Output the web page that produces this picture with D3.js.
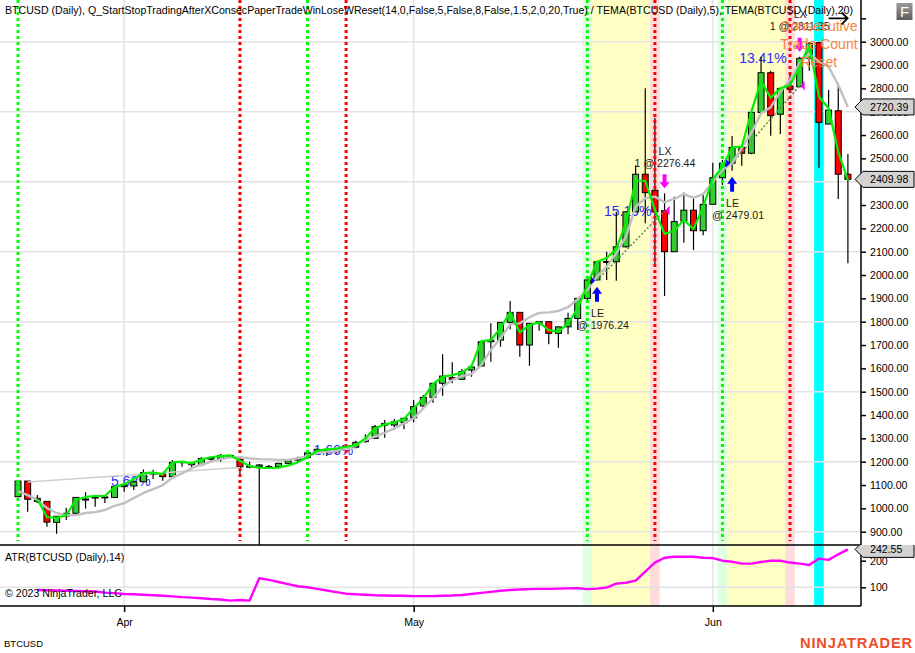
<!DOCTYPE html>
<html>
<head>
<meta charset="utf-8">
<script src="https://cdn.jsdelivr.net/npm/d3@7"></script>
<style>
    html, body { margin: 0; padding: 0; background: #fff; }
    svg { display: block; font-family: "Liberation Sans", Arial, sans-serif; }
</style>
</head>
<body>
<script>
var barOpen = [
    1050,1117,1043,1030,940,967,979,1036,1044,1045,
    1047,1093,1096,1114,1147,1147,1136,1196,1187,1187,
    1211,1213,1221,1211,1177,1178,1177,1178,1193,1207,
    1218,1238,1240,1243,1250,1262,1286,1300,1357,1357,
    1367,1388,1439,1476,1536,1560,1553,1593,1610,1714,
    1721,1797,1840,1700,1793,1800,1750,1778,1814,1900,
    1979,2056,2057,2121,2271,2432,2363,2276,2100,2231,
    2278,2190,2303,2417,2479,2547,2522,2697,2867,2689,
    2810,2807,2929,2996,2647,2704,2432];
var barHigh = [
    1120,1117,1057,1030,967,1003,1047,1069,1050,1050,
    1093,1108,1121,1167,1166,1157,1207,1201,1200,1219,
    1217,1233,1229,1211,1200,1190,1186,1193,1210,1221,
    1243,1257,1259,1257,1267,1290,1318,1357,1379,1383,
    1388,1464,1486,1537,1661,1626,1597,1614,1717,1793,
    1798,1889,1840,1793,1801,1800,1778,1838,1901,1979,
    2058,2100,2271,2273,2471,2800,2673,2350,2336,2354,
    2326,2343,2481,2493,2596,2547,2697,2936,2876,2800,
    2857,2936,2999,3000,2793,2823,2519];
var barLow = [
    1048,986,1023,921,891,950,976,999,1007,1023,
    1044,1071,1079,1113,1126,1118,1136,1178,1168,1181,
    1203,1200,1219,1143,1172,500,1176,1176,1190,1196,
    1218,1236,1224,1236,1236,1257,1281,1298,1303,1336,
    1339,1369,1429,1453,1483,1536,1553,1564,1607,1628,
    1693,1768,1650,1611,1761,1703,1688,1746,1764,1893,
    1975,1979,1976,2118,2271,2222,2047,1910,2100,2138,
    2107,2171,2303,2386,2447,2468,2518,2697,2597,2604,
    2793,2807,2876,2460,2647,2326,2050];
var barClose = [
    1117,1039,1030,941,966,979,1047,1040,1049,1049,
    1093,1100,1114,1153,1154,1136,1197,1200,1196,1214,
    1216,1227,1227,1178,1181,1186,1179,1193,1204,1214,
    1238,1253,1247,1250,1264,1283,1293,1350,1364,1371,
    1386,1436,1476,1536,1567,1553,1586,1606,1714,1721,
    1797,1840,1700,1793,1800,1750,1778,1814,1900,1979,
    2057,2058,2121,2271,2432,2353,2271,2100,2229,2278,
    2190,2303,2417,2479,2547,2522,2697,2867,2683,2800,
    2796,2929,2992,2654,2707,2432,2410];

// fast TEMA starts on the third bar, ATR too
var tema5Start = 2;
var tema5 = [
    1040,963,959,971,1036,1049,1053,1053,1091,1104,
    1126,1151,1153,1146,1197,1200,1193,1210,1219,1224,
    1227,1204,1181,1174,1173,1174,1184,1197,1220,1247,
    1254,1256,1264,1271,1300,1343,1360,1369,1383,1429,
    1472,1533,1564,1571,1583,1610,1717,1721,1773,1840,
    1754,1786,1797,1764,1757,1793,1857,1957,2057,2073,
    2111,2223,2404,2404,2279,2176,2190,2236,2197,2293,
    2411,2464,2547,2550,2700,2831,2760,2800,2814,2893,
    2986,2764,2715,2528,2407];
var tema20 = [
    1074,1057,1036,1001,980,971,971,980,984,993,
    1011,1022,1044,1066,1082,1100,1131,1150,1172,1187,
    1200,1211,1219,1219,1214,1211,1210,1208,1208,1214,
    1225,1237,1243,1246,1257,1271,1293,1307,1324,1343,
    1364,1386,1429,1472,1521,1550,1567,1576,1614,1679,
    1729,1789,1793,1819,1838,1840,1846,1862,1897,1936,
    1993,2036,2094,2164,2293,2329,2336,2312,2326,2347,
    2331,2347,2399,2450,2479,2544,2609,2693,2719,2786,
    2836,2907,2950,2914,2893,2814,2720.39];
var atrStart = 2;
var atrValues = [
    90,89,88,87,86,85,84,80,78,75,
    74,72,70,68,66,63,61,59,56,54,
    50,52,50,134,128,120,112,104,100,94,
    88,82,76,74,72,70,69,68,68,67,
    67,67,68,69,71,75,79,83,87,90,
    92,93,94,94,95,96,97,93,95,99,
    114,117,125,159,193,211,215,215,215,211,
    210,200,196,189,189,195,200,200,193,189,
    184,208,203,224,242.55];

var entryBars = [59, 73];
var exitBars = [66, 80];
var resetBars = [83];
var startBars = [0, 30, 59, 73];
var stopBars = [23, 34, 66, 80];

var tradeEntryBar = [1, 31, 60, 74];
var tradeEntryPrice = [1113, 1238, 1976.24, 2479.01];
var tradeExitBar = [23, 35, 67, 81];
var tradeExitPrice = [1175, 1258, 2276.44, 2811.35];
var tradePercent = ['5.62%', '1.66%', '15.19%', '13.41%'];
var tradePercentPrice = [1117, 1250, 2274, 2930];
var tradeWon = [false, false, true, true];

var priceTicks = [900,1000,1100,1200,1300,1400,1500,1600,1700,1800,1900,2000,2100,2200,2300,2400,2500,2600,2700,2800,2900,3000,3100];
var priceGrid = [900, 1200, 1500, 1800, 2100, 2400, 2700, 3000];
var atrTicks = [100, 200];
var lastPrices = [2720.39, 2409.98];
var lastAtr = 242.55;

var titleText = 'BTCUSD (Daily), Q_StartStopTradingAfterXConsecPaperTradeWinLoseWReset(14,0,False,5,False,8,False,1.5,2,0,20,True) / TEMA(BTCUSD (Daily),5), TEMA(BTCUSD (Daily),20)';
var resetLines = ['Consecutive', 'Trade Count', 'Reset'];

var width = 915, height = 653;
var plotRight = 861, mainBottom = 545, atrBottom = 606;
var labelSize = 10.6;

var firstDay = new Date(Date.UTC(2017, 2, 21));
var dayOf = function(i) { return d3.utcDay.offset(firstDay, i); };

var x = d3.scaleUtc().domain([firstDay, dayOf(barClose.length - 1)]).range([18, 847.9]);
var y = d3.scaleLinear().domain([900, 3000]).range([531.7, 41.7]);
var atrY = d3.scaleLinear().domain([100, 200]).range([587.3, 560.7]);
var barX = function(i) { return x(dayOf(i)); };
var slot = barX(1) - barX(0);

var svg = d3.select('body').append('svg').attr('width', width).attr('height', height);
var defs = svg.append('defs');
defs.append('clipPath').attr('id', 'main-clip').append('rect')
    .attr('x', 0).attr('y', 0).attr('width', plotRight).attr('height', mainBottom);
defs.append('clipPath').attr('id', 'atr-clip').append('rect')
    .attr('x', 0).attr('y', mainBottom).attr('width', width).attr('height', atrBottom - mainBottom);
var grad = defs.append('linearGradient').attr('id', 'btn').attr('x2', 0).attr('y2', 1);
grad.append('stop').attr('offset', 0).attr('stop-color', '#9a9a9a');
grad.append('stop').attr('offset', 1).attr('stop-color', '#5c5c5c');

// background bands run through both panels
var bands = svg.append('g');
function band(from, to, color) {
    bands.append('rect')
        .attr('x', barX(from) - slot / 2).attr('y', 0)
        .attr('width', slot * (to - from + 1)).attr('height', atrBottom)
        .attr('fill', color);
}
entryBars.forEach(function(b, k) {
    band(b, b, '#e0ffe0');
    band(b + 1, exitBars[k] - 1, '#ffffc4');
    band(exitBars[k], exitBars[k], '#ffdcdc');
});
resetBars.forEach(function(b) { band(b, b, '#00ffff'); });

// grid
var months = d3.utcMonth.range(firstDay, dayOf(barClose.length));
var grid = svg.append('g').attr('stroke', '#e3e3e3').attr('stroke-width', 1.5);
grid.selectAll('.h').data(priceGrid).enter().append('line')
    .attr('x1', 0).attr('x2', plotRight).attr('y1', y).attr('y2', y);
grid.selectAll('.a').data(atrTicks.slice(0, 1)).enter().append('line')
    .attr('x1', 0).attr('x2', plotRight).attr('y1', atrY).attr('y2', atrY);
grid.selectAll('.v').data(months).enter().append('line')
    .attr('x1', x).attr('x2', x).attr('y1', 0).attr('y2', atrBottom);

var main = svg.append('g').attr('clip-path', 'url(#main-clip)');

// percent labels sit under the lines
main.selectAll('.pct').data(tradePercent).enter().append('text')
    .attr('x', function(d, k) { return (barX(tradeEntryBar[k]) + barX(tradeExitBar[k])) / 2 - 3; })
    .attr('y', function(d, k) { return y(tradePercentPrice[k]) + 5; })
    .attr('text-anchor', 'middle').attr('font-size', 14).attr('fill', '#2a2aff')
    .text(function(d) { return d; });

// candles
var bars = d3.range(barClose.length);
var candle = main.selectAll('.candle').data(bars).enter().append('g');
candle.append('line')
    .attr('x1', barX).attr('x2', barX)
    .attr('y1', function(i) { return y(barHigh[i]); })
    .attr('y2', function(i) { return y(barLow[i]); })
    .attr('stroke', '#000').attr('stroke-width', 1.2);
candle.append('rect')
    .attr('x', function(i) { return barX(i) - 3; })
    .attr('width', 6)
    .attr('y', function(i) { return y(Math.max(barOpen[i], barClose[i])); })
    .attr('height', function(i) { return Math.max(1, Math.abs(y(barOpen[i]) - y(barClose[i]))); })
    .attr('fill', function(i) { return barClose[i] >= barOpen[i] ? '#32cd32' : '#ff0000'; })
    .attr('stroke', '#000').attr('stroke-width', 1);

// start / stop dotted verticals
function dotted(list, color) {
    main.selectAll(null).data(list).enter().append('line')
        .attr('x1', barX).attr('x2', barX)
        .attr('y1', 0).attr('y2', mainBottom - 4)
        .attr('stroke', color).attr('stroke-width', 3).attr('stroke-dasharray', '3 3');
}
dotted(startBars, '#00ff00');
dotted(stopBars, '#ff0000');

// trade lines
main.selectAll('.trade').data(tradeEntryBar).enter().append('line')
    .attr('x1', function(d) { return barX(d); })
    .attr('y1', function(d, k) { return y(tradeEntryPrice[k]); })
    .attr('x2', function(d, k) { return barX(tradeExitBar[k]); })
    .attr('y2', function(d, k) { return y(tradeExitPrice[k]); })
    .attr('stroke', function(d, k) { return tradeWon[k] ? '#5f8f5f' : '#cfcfcf'; })
    .attr('stroke-width', 1.6)
    .attr('stroke-dasharray', function(d, k) { return tradeWon[k] ? '2 2' : null; });

// TEMA lines
function plotLine(values, start, scale, color, sw, parent) {
    var line = d3.line()
        .x(function(d, k) { return barX(k + start); })
        .y(function(d) { return scale(d); });
    parent.append('path').datum(values)
        .attr('d', line).attr('fill', 'none')
        .attr('stroke', color).attr('stroke-width', sw).attr('stroke-linejoin', 'round');
}
plotLine(tema20, 0, y, '#c0c0c0', 2.4, main);
plotLine(tema5, tema5Start, y, '#00f000', 2.2, main);

// entry markers
tradeEntryBar.slice(2).forEach(function(b, k) {
    var cx = barX(b), top = y(barLow[b]) + 6;
    main.append('path').attr('fill', '#0000ff')
        .attr('d', 'M' + cx + ',' + top + 'l5,7h-3v8h-4v-8h-3z');
    main.append('path').attr('fill', '#0000ff')
        .attr('d', 'M' + (cx - 6) + ',' + (y(tradeEntryPrice[k + 2]) - 4) + 'l4,4l-4,4z');
    var lab = y(barLow[b]) + 36.5;
    main.append('text').attr('x', cx - 6).attr('y', lab).attr('font-size', labelSize).attr('fill', '#1a1a1a').text('LE');
    main.append('text').attr('x', cx - 20).attr('y', lab + 12).attr('font-size', labelSize).attr('fill', '#1a1a1a')
        .text('@ ' + tradeEntryPrice[k + 2]);
});

// exit markers
tradeExitBar.slice(2).forEach(function(b, k) {
    var cx = barX(b), bottom = y(barHigh[b]) - 5;
    main.append('path').attr('fill', '#ff00ff')
        .attr('d', 'M' + cx + ',' + bottom + 'l-5,-6h3v-8h4v8h3l-5,6z');
    main.append('path').attr('fill', '#ff00ff')
        .attr('d', 'M' + (cx + 1) + ',' + y(tradeExitPrice[k + 2]) + 'l4,-5v10z');
    var lab = bottom - 14 - 7.5;
    main.append('text').attr('x', cx - 6).attr('y', lab - 12).attr('font-size', labelSize).attr('fill', '#1a1a1a').text('LX');
    main.append('text').attr('x', cx - 30).attr('y', lab).attr('font-size', labelSize).attr('fill', '#1a1a1a')
        .text('1 @ ' + tradeExitPrice[k + 2]);
});

// reset note and arrow
resetLines.forEach(function(t, k) {
    main.append('text').attr('x', barX(resetBars[0])).attr('y', y(3000) - 11 + k * 18)
        .attr('text-anchor', 'middle').attr('font-size', 14).attr('fill', '#f5853f').text(t);
});
main.append('path').attr('fill', 'none').attr('stroke', '#000').attr('stroke-width', 1.8)
    .attr('d', 'M' + barX(84) + ',' + y(3100) + 'h19m-6,-6l6,6l-6,6');

// atr panel
var atrPanel = svg.append('g').attr('clip-path', 'url(#atr-clip)');
plotLine(atrValues, atrStart, atrY, '#ff00ff', 2.4, atrPanel);

// frame
var frame = svg.append('g').attr('stroke', '#000').attr('stroke-width', 1.5);
frame.append('line').attr('x1', 0).attr('x2', plotRight).attr('y1', mainBottom).attr('y2', mainBottom);
frame.append('line').attr('x1', 0).attr('x2', plotRight).attr('y1', atrBottom).attr('y2', atrBottom);

// axes
function styleAxis(g) {
    g.select('.domain').attr('stroke', '#000').attr('stroke-width', 1.5);
    g.selectAll('.tick line').attr('stroke', '#000').attr('stroke-width', 1.5);
    g.selectAll('.tick text').attr('font-family', '"Liberation Sans", Arial, sans-serif').attr('font-size', labelSize).attr('fill', '#000');
}
var priceAxis = d3.axisRight(y).tickValues(priceTicks).tickSize(5).tickPadding(4)
    .tickFormat(function(d) { return d > 3000 ? '' : d3.format('.2f')(d); });
svg.append('g').attr('transform', 'translate(' + plotRight + ',0)').call(priceAxis).call(styleAxis)
    .select('.domain').attr('d', 'M0,0V' + atrBottom);
svg.append('g').attr('transform', 'translate(' + plotRight + ',0)')
    .call(d3.axisRight(atrY).tickValues(atrTicks).tickSize(5).tickPadding(4).tickFormat(d3.format('d')))
    .call(styleAxis).select('.domain').remove();
svg.append('g').attr('transform', 'translate(0,' + atrBottom + ')')
    .call(d3.axisBottom(x).tickValues(months).tickSize(6).tickPadding(6).tickFormat(d3.utcFormat('%b')))
    .call(styleAxis).select('.domain').remove();

// last value flags
function flag(parent, cy, label) {
    var pts = [[855, cy], [863, cy - 8], [914, cy - 8], [914, cy + 8], [863, cy + 8]];
    parent.append('polygon').attr('points', pts.join(' '))
        .attr('fill', '#d3d3d3').attr('stroke', '#000').attr('stroke-width', 1);
    parent.append('text').attr('x', 870).attr('y', cy + 4).attr('font-size', labelSize).attr('fill', '#000').text(label);
}
lastPrices.forEach(function(p) { flag(svg, y(p), d3.format('.2f')(p)); });
flag(svg.append('g').attr('clip-path', 'url(#atr-clip)'), atrY(lastAtr), d3.format('.2f')(lastAtr));

// texts
svg.append('text').attr('x', 5).attr('y', 14).attr('font-size', labelSize).attr('fill', '#000').text(titleText);
svg.append('text').attr('x', 5).attr('y', 561).attr('font-size', labelSize).attr('fill', '#000').text('ATR(BTCUSD (Daily),14)');
svg.append('text').attr('x', 5).attr('y', 597).attr('font-size', labelSize).attr('fill', '#000').text('\u00a9 2023 NinjaTrader, LLC');
svg.append('text').attr('x', 4).attr('y', 647).attr('font-size', 9.5).attr('fill', '#000').text('BTCUSD');
svg.append('text').attr('x', 913).attr('y', 648).attr('text-anchor', 'end')
    .attr('font-size', 14.7).attr('font-weight', 'bold').attr('letter-spacing', 0.8).attr('fill', '#ee4e27').text('NINJATRADER');

// F button
svg.append('rect').attr('x', 896.5).attr('y', 3).attr('width', 16).attr('height', 17).attr('fill', 'url(#btn)');
svg.append('text').attr('x', 904.5).attr('y', 17).attr('text-anchor', 'middle')
    .attr('font-size', 15).attr('fill', '#fff').text('F');
</script>
</body>
</html>
